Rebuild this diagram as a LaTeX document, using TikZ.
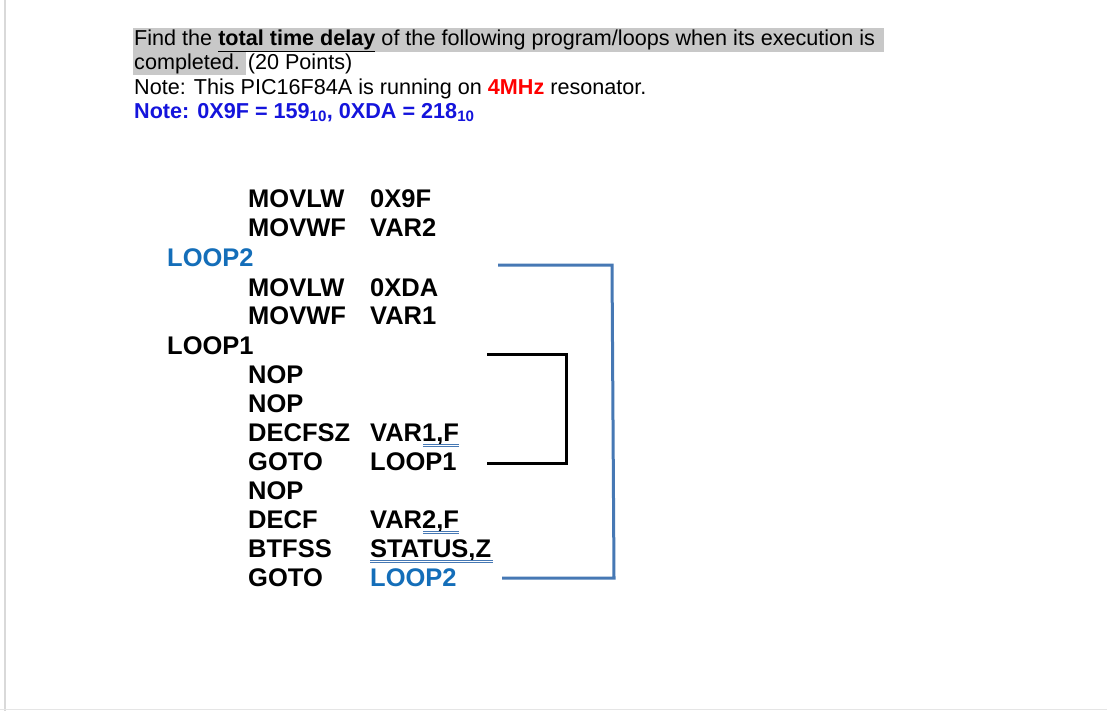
\documentclass[tikz,border=0pt]{standalone}
\usepackage{fontspec}
\setmainfont{Liberation Sans}
\usepackage{xcolor}
\definecolor{lblue}{RGB}{20,110,185}
\definecolor{nblue}{RGB}{20,20,220}
\definecolor{bblue}{RGB}{70,120,180}
\definecolor{hl}{RGB}{200,200,200}
\begin{document}
\begin{tikzpicture}[x=1pt,y=-1pt,
  hd/.style={anchor=west,inner sep=0,font=\fontsize{21.6}{22}\selectfont,text height=15pt,text depth=4pt},
  cd/.style={anchor=west,inner sep=0,font=\fontsize{25.5}{26}\selectfont\bfseries,text height=18pt,text depth=1pt},
  br/.style={line width=3pt}]
\useasboundingbox (0,0) rectangle (1107,711);
\fill[white] (0,0) rectangle (1107,711);
\draw[gray!30,line width=1.5pt] (5,0) -- (5,711);
\draw[gray!20,line width=1pt] (0,709) -- (1107,709);
\fill[hl] (133,28) rectangle (884,52);
\fill[hl] (133,52) rectangle (246,75);
\node[hd] (h1) at (134,40) {Find the \textbf{\underline{total time delay}} of the following program/loops when its execution is};
\node[hd] (h2) at (134,64) {completed. (20 Points)};
\node[hd] (h3) at (134,89) {Note: This PIC16F84A is running on \textcolor{red}{\textbf{4MHz}} resonator.};
\node[hd,text=nblue,font=\fontsize{21.6}{22}\selectfont\bfseries] (h4) at (134,113) {Note: 0X9F = 159\textsubscript{10}, 0XDA = 218\textsubscript{10}};
\node[cd] (m1) at (248,199) {MOVLW}; \node[cd] (o1) at (370,199) {0X9F};
\node[cd] (m2) at (248,228) {MOVWF}; \node[cd] (o2) at (370,228) {VAR2};
\node[cd,text=lblue] (l2) at (167,258) {LOOP2};
\node[cd] (m3) at (248,288) {MOVLW}; \node[cd] (o3) at (370,288) {0XDA};
\node[cd] (m4) at (248,316) {MOVWF}; \node[cd] (o4) at (370,316) {VAR1};
\node[cd] (l1) at (167,346) {LOOP1};
\node[cd] (m5) at (248,375) {NOP};
\node[cd] (m6) at (248,404) {NOP};
\node[cd] (m7) at (248,433) {DECFSZ}; \node[cd] (o7) at (370,433) {VAR1,F};
\node[cd] (m8) at (248,462) {GOTO}; \node[cd] (o8) at (370,462) {LOOP1};
\node[cd] (m9) at (248,491) {NOP};
\node[cd] (m10) at (248,520) {DECF}; \node[cd] (o10) at (370,520) {VAR2,F};
\node[cd] (m11) at (248,549) {BTFSS}; \node[cd] (o11) at (370,549) {STATUS,Z};
\node[cd] (m12) at (248,578) {GOTO}; \node[cd,text=lblue] (o12) at (370,578) {LOOP2};
\foreach \a/\b/\y in {423/459/444, 423/459/531, 370/493/560}{
  \draw[bblue,line width=0.6pt] (\a,\y) -- (\b,\y);
  \draw[bblue,line width=0.6pt] (\a,\y+2.5) -- (\b,\y+2.5);
}
\coordinate (a1) at (487,354); \coordinate (a2) at (566,354);
\coordinate (a3) at (566,463); \coordinate (a4) at (487,463);
\draw[br,black] (a1) -- (a2) -- (a3) -- (a4);
\coordinate (b1) at (498,265); \coordinate (b2) at (612,265);
\coordinate (b3) at (614,578); \coordinate (b4) at (502,578);
\draw[br,bblue] (b1) -- (b2) -- (b3) -- (b4);
\end{tikzpicture}
\end{document}
